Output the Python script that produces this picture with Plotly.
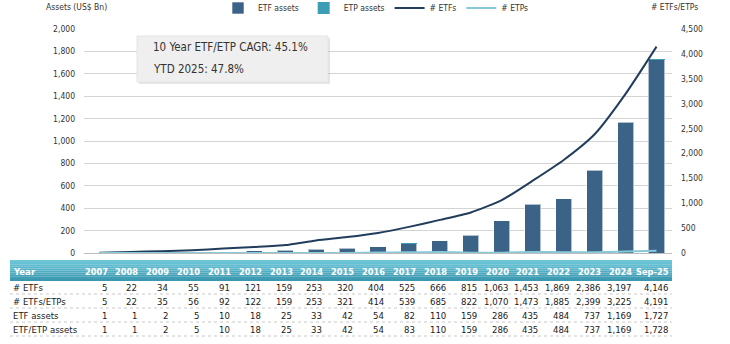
import plotly.graph_objects as go

years = ["2007", "2008", "2009", "2010", "2011", "2012", "2013", "2014", "2015", "2016",
         "2017", "2018", "2019", "2020", "2021", "2022", "2023", "2024", "Sep-25"]
n_etfs = [5, 22, 34, 55, 91, 121, 159, 253, 320, 404, 525, 666, 815, 1063, 1453, 1869, 2386, 3197, 4146]
n_etfs_etps = [5, 22, 35, 56, 92, 122, 159, 253, 321, 414, 539, 685, 822, 1070, 1473, 1885, 2399, 3225, 4191]
etf_assets = [1, 1, 2, 5, 10, 18, 25, 33, 42, 54, 82, 110, 159, 286, 435, 484, 737, 1169, 1727]
etf_etp_assets = [1, 1, 2, 5, 10, 18, 25, 33, 42, 54, 83, 110, 159, 286, 435, 484, 737, 1169, 1728]

etp_assets = [b - a for a, b in zip(etf_assets, etf_etp_assets)]
n_etps = [b - a for a, b in zip(n_etfs, n_etfs_etps)]

row_labels = ["# ETFs", "# ETFs/ETPs", "ETF assets", "ETF/ETP assets"]
row_values = [n_etfs, n_etfs_etps, etf_assets, etf_etp_assets]

W, H = 730, 344
L, R, T, B = 84, 58, 29, 91
PW, PH = W - L - R, H - T - B


def px_x(px):
    return (px - L) / PW


def px_y(py):
    return (H - B - py) / PH


# table column right edges (pixels): regular columns then a wider last column
col_right = [108.5 + 30.85 * i for i in range(len(years) - 1)] + [669.5]

C_ETF = "#3b6387"
C_ETP = "#3d9db4"
C_LINE = "#213d5b"
C_LINE2 = "#88c9d8"
FONT = "DejaVu Sans Condensed, Liberation Sans, sans-serif"

fig = go.Figure()
fig.add_trace(go.Bar(x=years, y=etf_assets, name="ETF assets", marker_color=C_ETF,
                     marker_line=dict(color="rgba(255,255,255,0.6)", width=1)))
fig.add_trace(go.Bar(x=years, y=etp_assets, name="ETP assets", marker_color=C_ETP,
                     marker_line=dict(width=0)))
fig.add_trace(go.Scatter(x=years, y=n_etfs, name="# ETFs", yaxis="y2", mode="lines",
                         line=dict(color=C_LINE, width=2, shape="spline", smoothing=0.6)))
fig.add_trace(go.Scatter(x=years, y=n_etps, name="# ETPs", yaxis="y2", mode="lines",
                         line=dict(color=C_LINE2, width=2, shape="spline", smoothing=0.6)))

shapes = []
annotations = []

# CAGR box with shadow
shapes.append(dict(type="rect", xref="paper", yref="paper", layer="above",
                   x0=px_x(139), x1=px_x(330), y0=px_y(38), y1=px_y(84),
                   fillcolor="rgba(0,0,0,0.10)", line=dict(width=0)))
shapes.append(dict(type="rect", xref="paper", yref="paper", layer="above",
                   x0=px_x(137), x1=px_x(328), y0=px_y(36), y1=px_y(82),
                   fillcolor="#efefef", line=dict(color="#e4e4e4", width=1)))
for txt, py in [("10 Year ETF/ETP CAGR: 45.1%", 47), ("YTD 2025: 47.8%", 69)]:
    annotations.append(dict(text=txt, xref="paper", yref="paper", x=px_x(151), y=px_y(py),
                            xanchor="left", yanchor="middle", showarrow=False,
                            font=dict(family=FONT, size=11.5, color="#333333")))

# axis titles
annotations.append(dict(text="Assets (US$ Bn)", xref="paper", yref="paper", x=px_x(44), y=px_y(7),
                        xanchor="left", yanchor="middle", showarrow=False,
                        font=dict(family=FONT, size=8.5, color="#333333")))
annotations.append(dict(text="# ETFs/ETPs", xref="paper", yref="paper", x=px_x(700), y=px_y(7),
                        xanchor="right", yanchor="middle", showarrow=False,
                        font=dict(family=FONT, size=8.5, color="#333333")))

# table header band (vertical gradient imitation)
top_c = (108, 198, 216)
bot_c = (58, 152, 176)
nst = 10
y_top, y_bot = 260, 281
for i in range(nst):
    f = i / (nst - 1)
    c = tuple(int(round(top_c[k] + (bot_c[k] - top_c[k]) * f)) for k in range(3))
    y0 = y_top + (y_bot - y_top) * i / nst
    y1 = y_top + (y_bot - y_top) * (i + 1) / nst
    shapes.append(dict(type="rect", xref="paper", yref="paper",
                       x0=px_x(10), x1=px_x(672), y0=px_y(y1), y1=px_y(y0),
                       fillcolor="rgb(%d,%d,%d)" % c, line=dict(width=0)))

annotations.append(dict(text="<b>Year</b>", xref="paper", yref="paper", x=px_x(11), y=px_y(271),
                        xanchor="left", yanchor="middle", showarrow=False,
                        font=dict(family=FONT, size=9.5, color="white")))
for yr, xr in zip(years, col_right):
    annotations.append(dict(text="<b>%s</b>" % yr, xref="paper", yref="paper", x=px_x(xr + 1),
                            y=px_y(271), xanchor="right", yanchor="middle", showarrow=False,
                            font=dict(family=FONT, size=9.2, color="white")))

row_y = [287, 301, 315, 329]
for lab, vals, ry in zip(row_labels, row_values, row_y):
    annotations.append(dict(text=lab, xref="paper", yref="paper", x=px_x(11), y=px_y(ry),
                            xanchor="left", yanchor="middle", showarrow=False,
                            font=dict(family=FONT, size=9.5, color="#1a1a1a")))
    for v, xr in zip(vals, col_right):
        annotations.append(dict(text=f"{v:,}", xref="paper", yref="paper", x=px_x(xr), y=px_y(ry),
                                xanchor="right", yanchor="middle", showarrow=False,
                                font=dict(family=FONT, size=9.5, color="#1a1a1a")))
    shapes.append(dict(type="line", xref="paper", yref="paper",
                       x0=px_x(10), x1=px_x(672), y0=px_y(ry + 7), y1=px_y(ry + 7),
                       line=dict(color="#c8c8c8", width=1, dash="dot")))

fig.update_layout(
    width=W, height=H,
    margin=dict(l=L, r=R, t=T, b=B, pad=0, autoexpand=False),
    paper_bgcolor="white", plot_bgcolor="white",
    barmode="stack", bargap=0.48,
    font=dict(family=FONT, size=8.5, color="#333333"),
    showlegend=True,
    legend=dict(orientation="h", x=px_x(218), xanchor="left", y=px_y(8), yanchor="middle",
                font=dict(family=FONT, size=8.5, color="#333333"), traceorder="normal",
                bgcolor="rgba(0,0,0,0)", itemclick=False, tracegroupgap=0),
    xaxis=dict(type="category", range=[-0.5, 18.5], showticklabels=False, showgrid=False,
               zeroline=False, showline=False, ticks=""),
    yaxis=dict(range=[0, 2000], dtick=200, tickformat=",", showgrid=True, gridcolor="#d4d4d4",
               gridwidth=1, zeroline=True, zerolinecolor="#bdbdbd", zerolinewidth=1,
               showline=False, ticks="", ticklabelstandoff=8,
               tickfont=dict(family=FONT, size=8.5, color="#333333")),
    yaxis2=dict(range=[0, 4500], dtick=500, tickformat=",", overlaying="y", side="right",
                showgrid=False, zeroline=False, showline=False, ticks="", ticklabelstandoff=8,
                tickfont=dict(family=FONT, size=8.5, color="#333333")),
    shapes=shapes,
    annotations=annotations,
    hovermode=False,
)

fig.write_html("out.html")
